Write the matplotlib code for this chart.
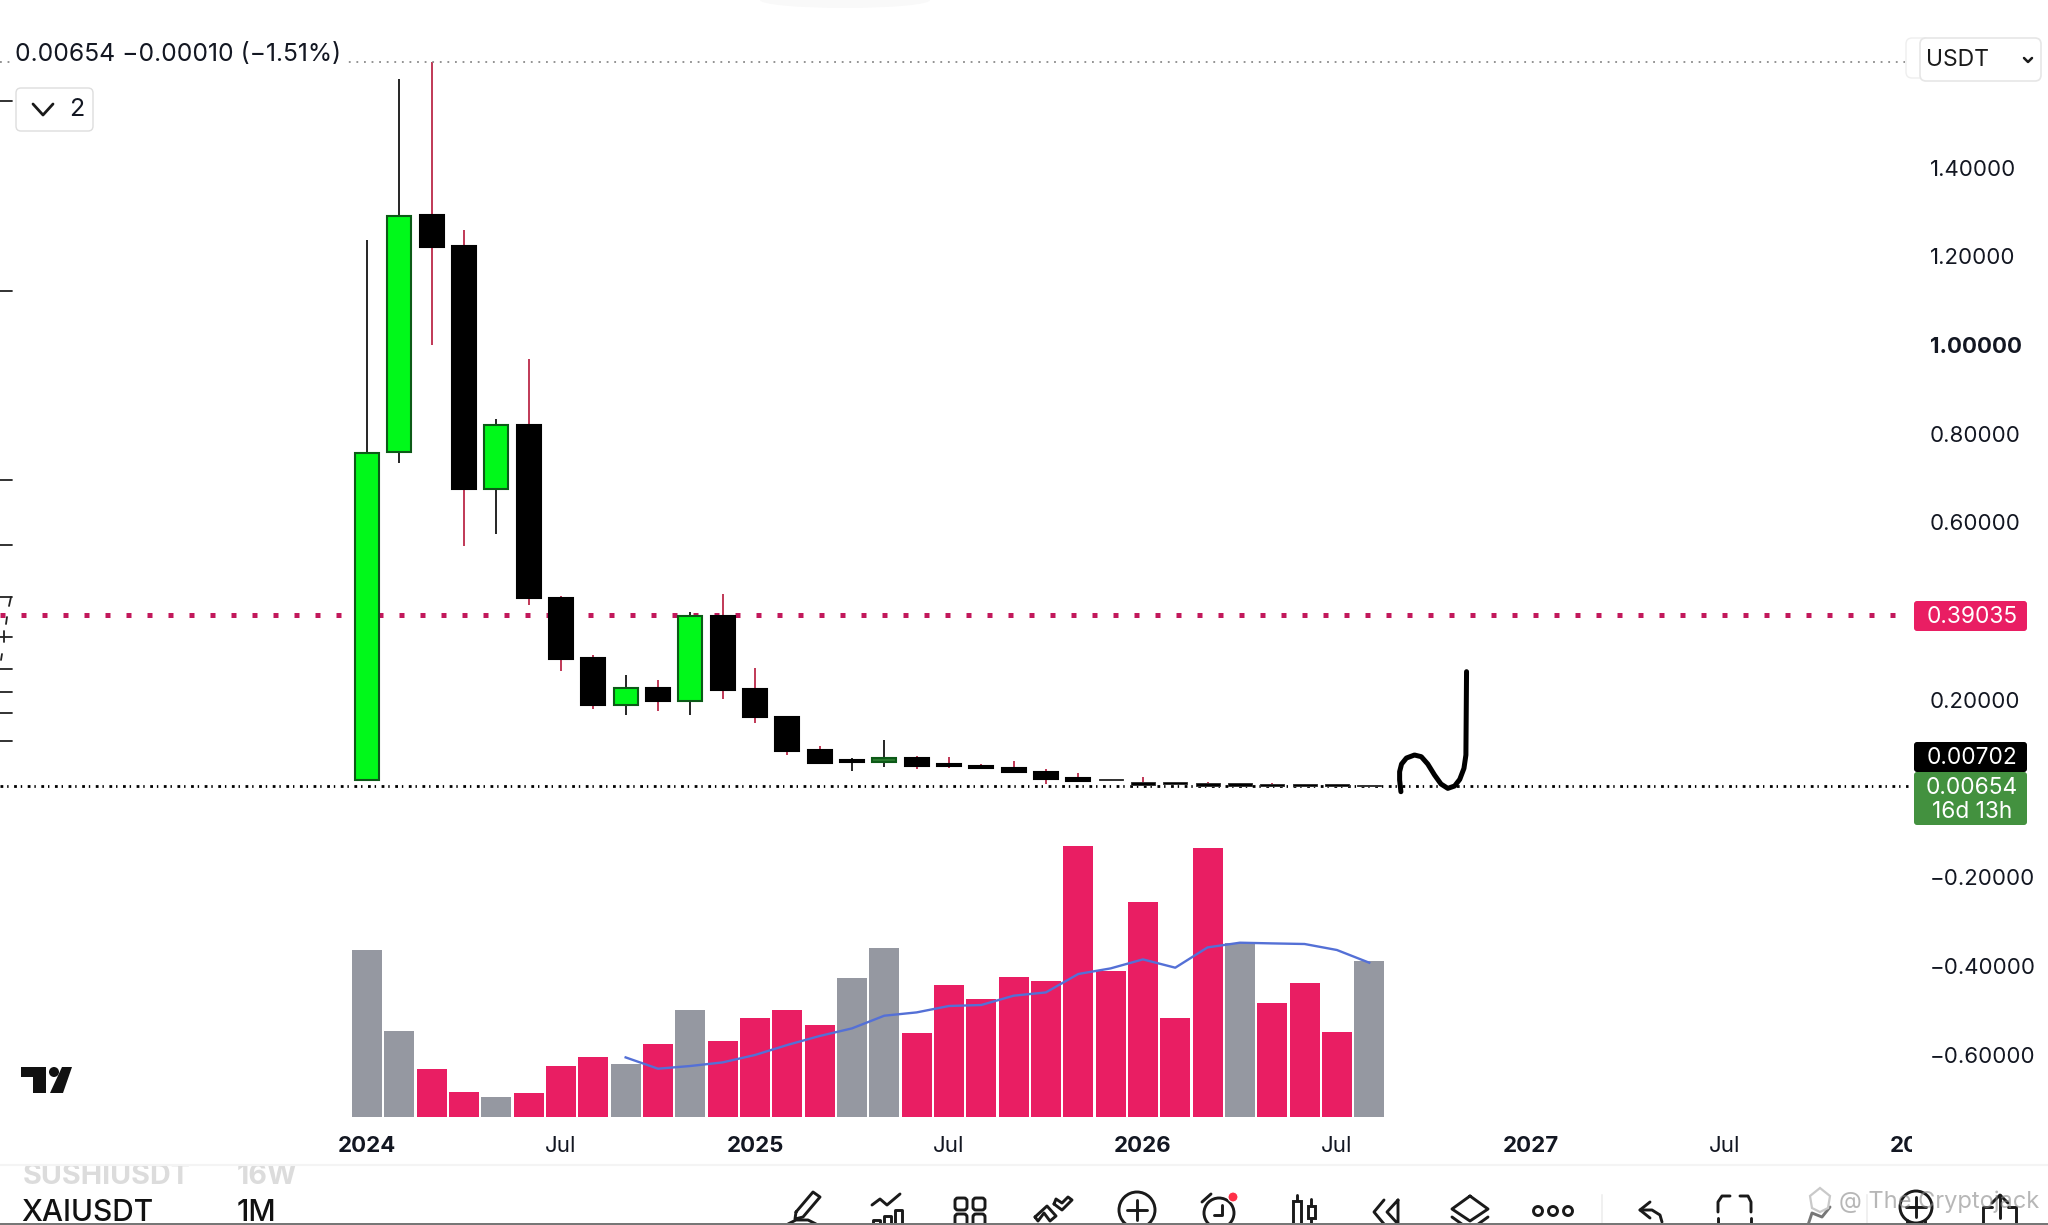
import matplotlib
matplotlib.use("Agg")
import matplotlib.pyplot as plt
from matplotlib.patches import FancyBboxPatch, Rectangle, Circle, Polygon, Ellipse

W, H = 2048, 1225
plt.rcParams['font.family'] = ['Inter', 'DejaVu Sans']

# ---------- data ----------
opens  = [0.019, 0.758, 1.292, 1.224, 0.676, 0.820, 0.4295, 0.295, 0.188, 0.227, 0.197, 0.390, 0.2236, 0.162,
          0.0868, 0.0643, 0.0605, 0.0688, 0.0546, 0.0507, 0.0462, 0.0379, 0.0230, 0.0214, 0.0147, 0.0140,
          0.0117, 0.0115, 0.0110, 0.0100, 0.0095, 0.00702]
closes = [0.757, 1.291, 1.222, 0.675, 0.820, 0.429, 0.293, 0.1875, 0.2266, 0.1965, 0.389, 0.222, 0.1605, 0.0853,
          0.0568, 0.0605, 0.0688, 0.0500, 0.0500, 0.0469, 0.0365, 0.0214, 0.0176, 0.0185, 0.0086, 0.0095,
          0.0063, 0.0065, 0.0065, 0.0062, 0.0062, 0.00654]
highs  = [1.237, 1.599, 1.639, 1.259, 0.833, 0.968, 0.435, 0.301, 0.2566, 0.2447, 0.397, 0.439, 0.2725, 0.1635,
          0.0966, 0.0695, 0.1087, 0.0740, 0.0703, 0.0559, 0.0627, 0.0440, 0.0343, 0.0214, 0.0266, 0.0140,
          0.0153, 0.0125, 0.0120, 0.0110, 0.0100, 0.0075]
lows   = [0.019, 0.733, 1.000, 0.547, 0.574, 0.414, 0.266, 0.179, 0.166, 0.1755, 0.166, 0.201, 0.1477, 0.0755,
          0.0568, 0.0388, 0.0485, 0.0433, 0.0462, 0.0446, 0.0365, 0.0101, 0.0176, 0.0185, 0.0086, 0.0090,
          0.0060, 0.0060, 0.0060, 0.0060, 0.0060, 0.0060]
volumes = [166.3, 85.3, 47.3, 24.3, 20.0, 23.3, 50.7, 60.0, 52.3, 72.3, 106.7, 75.7, 98.3, 106.3, 91.3, 138.7,
           168.3, 83.3, 131.7, 118.0, 140.0, 136.0, 270.7, 146.0, 214.3, 99.0, 268.7, 173.3, 113.7, 133.3, 84.3, 156.0]
gray_bars = [0, 1, 4, 8, 10, 15, 16, 27, 31]
vol_ma = [59.3, 48.0, 50.7, 54.3, 61.7, 71.7, 80.7, 88.3, 101.0, 104.3, 110.7, 111.7, 121.0, 124.3, 142.7, 148.3,
          157.3, 149.0, 169.3, 174.0, 173.3, 172.7, 166.7, 154.0]
vol_ma_start = 8
hand_x = [31.98, 31.94, 31.94, 32.00, 32.15, 32.40, 32.61, 32.81, 33.02, 33.22, 33.43, 33.64, 33.80, 33.93, 33.99, 34.01]
hand_y = [-0.0072, 0.0191, 0.0379, 0.0552, 0.0687, 0.0755, 0.0717, 0.0552, 0.0304, 0.0101, 0.0003, 0.0056, 0.0206,
          0.0454, 0.0755, 0.2634]
price_ticks = [1.4, 1.2, 1.0, 0.8, 0.6, 0.2, -0.2, -0.4, -0.6]
time_ticks = [0, 6, 12, 18, 24, 30, 36, 42, 48]
time_labels = ['2024', 'Jul', '2025', 'Jul', '2026', 'Jul', '2027', 'Jul', '2028']
ref_level = 0.39035
last_price = 0.00654
left_marks = [101, 291, 480, 545, 597, 637, 669, 692, 713, 741]

# ---------- layout ----------
PX_MONTH = 32.33
X0_PX = 367.0
Y0_PX = 788.5
PX_UNIT = 443.5
AX_R, AX_B = 1925, 1130
BASE_PX = 1116.7
INK = '#131722'
PINK = '#e91e63'
GRAY = '#9598a1'

fig = plt.figure(figsize=(W / 100, H / 100), dpi=100, facecolor='white')
rect = [0, 1 - AX_B / H, AX_R / W, AX_B / H]
xlim = (-X0_PX / PX_MONTH, (AX_R - X0_PX) / PX_MONTH)
x_end = (1908 - X0_PX) / PX_MONTH
xs = list(range(len(opens)))

# volume pane
axv = fig.add_axes(rect, zorder=1)
axv.set_xlim(xlim)
axv.set_ylim(BASE_PX - AX_B, BASE_PX)
axv.axis('off')
axv.bar(xs, volumes, width=0.93, color=[GRAY if i in gray_bars else PINK for i in xs], linewidth=0)
axv.plot(range(vol_ma_start, vol_ma_start + len(vol_ma)), vol_ma, color='#5470d6', lw=1.7)

# price pane
ax = fig.add_axes(rect, zorder=2)
ax.patch.set_alpha(0)
ax.set_xlim(xlim)
ax.set_ylim((Y0_PX - AX_B) / PX_UNIT, Y0_PX / PX_UNIT)
for s in ax.spines.values():
    s.set_visible(False)

ax.plot([xlim[0], x_end], [ref_level, ref_level], color='#c2185b', lw=3.6,
        dashes=(1, 3.2), dash_capstyle='butt', zorder=1)
ax.plot([xlim[0], x_end], [last_price, last_price], color='black', lw=2.0,
        dashes=(1.0, 1.4, 0.5, 2.0), dash_capstyle='butt', zorder=1)

for i in xs:
    up = closes[i] > opens[i]
    wick = 'black' if (up or i == 15) else '#b5173a'
    ax.plot([i, i], [lows[i], highs[i]], color=wick, lw=1.2, zorder=2, solid_capstyle='butt')
    thin = i >= 23
    fill = '#00f91a' if up else 'black'
    if i == 16:
        fill = '#2a7a2f'
    ax.bar(i, abs(closes[i] - opens[i]), bottom=min(opens[i], closes[i]), width=0.74,
           color=fill, edgecolor='#0c5a17' if up else ('#333333' if thin else 'black'),
           linewidth=0.7 if thin else 1.5, zorder=3)

ax.plot(hand_x, hand_y, color='black', lw=3.6, solid_capstyle='round', solid_joinstyle='round', zorder=4)

ax.yaxis.tick_right()
ax.set_yticks(price_ticks)
ax.set_yticklabels([f'{v:.5f}'.replace('-', '\u2212') for v in price_ticks], fontsize=16, color=INK)
for lab, v in zip(ax.get_yticklabels(), price_ticks):
    if v == 1.0:
        lab.set_fontweight('bold')
ax.tick_params(axis='y', length=0, pad=3.4)
ax.set_xticks(time_ticks)
ax.set_xticklabels(time_labels, fontsize=16, color=INK)
for lab, t in zip(ax.get_xticklabels(), time_labels):
    if t != 'Jul':
        lab.set_fontweight('bold')
    lab.set_clip_on(True)
    lab.set_clip_box(matplotlib.transforms.Bbox([[0, 0], [1912, H]]))
ax.tick_params(axis='x', length=0, pad=4)

# ---------- interface overlay, in pixel coordinates ----------
ui = fig.add_axes([0, 0, 1, 1], zorder=3)
ui.set_xlim(0, W)
ui.set_ylim(H, 0)
ui.axis('off')
ui.patch.set_alpha(0)


def box(x0, y0, x1, y1, fc, ec='none', r=3, lw=1.0, z=5):
    ui.add_patch(FancyBboxPatch((x0 + r, y0 + r), x1 - x0 - 2 * r, y1 - y0 - 2 * r,
                                boxstyle=f'round,pad={r},rounding_size={r}', fc=fc, ec=ec, lw=lw, zorder=z))


def stroke(pts, lw=2.0, c='#1a1a1a', z=6):
    ui.plot([p[0] for p in pts], [p[1] for p in pts], color=c, lw=lw, zorder=z,
            solid_capstyle='round', solid_joinstyle='round')


ui.add_patch(Ellipse((845, 0), 170, 16, fc='#f9f9f9', ec='none', zorder=0))
ui.plot([0, 1905], [61.5, 61.5], color='#8a8a8a', lw=1.3, dashes=(1, 3.2), zorder=1)
ui.text(15, 55, '0.00654 \u22120.00010 (\u22121.51%)', fontsize=17.8, color=INK, va='center', ha='left',
        zorder=6, bbox=dict(fc='white', ec='none', pad=2))

# left clipped marks
for y in left_marks:
    stroke([(0, y), (12, y)], lw=1.3, c='#222222')
stroke([(11, 597), (9, 606)], lw=1.3, c='#222222')
stroke([(7, 617), (6, 624)], lw=1.3, c='#222222')
stroke([(4, 631), (4, 642)], lw=1.3, c='#222222')
stroke([(2, 654), (1, 660)], lw=1.3, c='#222222')

# collapse button
box(16, 88, 93, 131, 'white', '#dddddd', r=5, lw=1.0)
stroke([(33, 104), (43, 115), (53, 104)], lw=2.0)
ui.text(77, 110, '2', fontsize=18, color=INK, ha='center', va='center', zorder=6)

# currency selector
box(1906, 38, 1930, 78, 'white', '#eeeeee', r=6)
box(1920, 38, 2041, 81, 'white', '#e6e6e6', r=6, lw=1.2)
ui.text(1926, 60, 'USDT', fontsize=16.5, color='#1a1a1a', ha='left', va='center', zorder=6)
stroke([(2024, 58), (2028, 62), (2032, 58)], lw=1.8)

# price tags
box(1914, 601, 2027, 631, PINK)
ui.text(1972, 617, '0.39035', color='white', fontsize=16.3, ha='center', va='center', zorder=6)
box(1914, 742, 2027, 772, 'black')
ui.text(1972, 758, '0.00702', color='white', fontsize=16.3, ha='center', va='center', zorder=6)
box(1914, 772, 2027, 825, '#43913f')
ui.text(1972, 788, '0.00654', color='white', fontsize=16.3, ha='center', va='center', zorder=6)
ui.text(1972, 812, '16d 13h', color='white', fontsize=16.3, ha='center', va='center', zorder=6)

# TradingView logo
ui.add_patch(Polygon([(21, 1067), (46, 1067), (46, 1093), (33, 1093), (33, 1077), (21, 1077)], fc='#111111', ec='none'))
ui.add_patch(Circle((54, 1072), 5, fc='#111111', ec='none'))
ui.add_patch(Polygon([(62, 1067), (72, 1067), (63, 1093), (50, 1093)], fc='#111111', ec='none'))

# footer
ui.text(23, 1176, 'SUSHIUSDT', fontsize=20.7, color='#dcdcdc', fontweight='bold', va='center', zorder=2)
ui.text(237, 1176, '16W', fontsize=20.7, color='#dcdcdc', fontweight='bold', va='center', zorder=2)
ui.add_patch(Rectangle((0, 1156), W, 9, fc='white', ec='none', zorder=3))
ui.plot([0, W], [1165, 1165], color='#f4f4f4', lw=1.5, zorder=4)
ui.text(21, 1213, 'XAIUSDT', fontsize=21.5, color='#111111', fontweight='medium', va='center', zorder=6)
ui.text(237, 1213, '1M', fontsize=21.5, color='#111111', fontweight='medium', va='center', zorder=6)

# toolbar icons
LW = 2.1
stroke([(796, 1212), (813, 1192), (820, 1197), (803, 1217), (795, 1219), (796, 1212)], LW)       # pencil
stroke([(788, 1224), (796, 1220), (808, 1220), (816, 1224)], LW)
stroke([(872, 1205), (880, 1199), (887, 1205), (900, 1194)], LW)                                 # chart
for x0, y0 in [(873, 1220), (884, 1216), (895, 1210)]:
    stroke([(x0, 1225), (x0, y0), (x0 + 7, y0), (x0 + 7, 1225)], LW)
for cx, cy in [(961, 1204), (979, 1204), (961, 1220), (979, 1220)]:                              # grid
    ui.add_patch(FancyBboxPatch((cx - 4, cy - 4), 8, 8, boxstyle='round,pad=2,rounding_size=3',
                                fc='none', ec='#1a1a1a', lw=LW, zorder=6))
stroke([(1035, 1217), (1047, 1206), (1056, 1216), (1050, 1221), (1044, 1213), (1038, 1221), (1035, 1217)], LW)  # strategy
stroke([(1054, 1204), (1062, 1210), (1072, 1200), (1068, 1197), (1062, 1203), (1056, 1199), (1054, 1204)], LW)
ui.add_patch(Circle((1137, 1210), 18, fc='none', ec='#1a1a1a', lw=LW, zorder=6))                 # add
stroke([(1127, 1210), (1147, 1210)], LW)
stroke([(1137, 1200), (1137, 1220)], LW)
ui.add_patch(Circle((1219, 1213), 15, fc='none', ec='#1a1a1a', lw=LW, zorder=6))                 # alarm
stroke([(1222, 1205), (1222, 1215), (1214, 1215)], LW)
stroke([(1202, 1202), (1211, 1194)], LW)
ui.add_patch(Circle((1233, 1197), 5, fc='#ff3048', ec='white', lw=0.8, zorder=7))
stroke([(1297, 1195), (1297, 1225)], LW)                                                         # candles
ui.add_patch(Rectangle((1293, 1201), 8, 24, fc='white', ec='#1a1a1a', lw=LW, zorder=7))
stroke([(1311, 1199), (1311, 1225)], LW)
ui.add_patch(Rectangle((1308, 1206), 7, 12, fc='white', ec='#1a1a1a', lw=LW, zorder=7))
stroke([(1384, 1200), (1374, 1212), (1384, 1224)], LW)                                           # rewind
stroke([(1398, 1200), (1387, 1212), (1398, 1224), (1398, 1200)], LW)
stroke([(1470, 1196), (1488, 1209), (1470, 1221), (1452, 1209), (1470, 1196)], LW)               # layers
stroke([(1452, 1217), (1470, 1230), (1488, 1217)], LW)
for cx in (1538, 1553, 1568):                                                                    # more
    ui.add_patch(Circle((cx, 1211), 4.5, fc='none', ec='#1a1a1a', lw=LW, zorder=6))
ui.plot([1602, 1602], [1195, 1225], color='#eeeeee', lw=1.2, zorder=2)
stroke([(1650, 1202), (1640, 1210), (1650, 1218)], LW)                                           # undo
stroke([(1640, 1210), (1652, 1210), (1660, 1215), (1662, 1222)], LW)
stroke([(1718, 1212), (1718, 1202), (1722, 1196), (1730, 1196)], LW)                             # frame
stroke([(1740, 1196), (1748, 1196), (1751, 1202), (1751, 1212)], LW)
stroke([(1718, 1218), (1718, 1225)], LW)
stroke([(1751, 1218), (1751, 1225)], LW)
stroke([(1808, 1225), (1812, 1213), (1822, 1217), (1830, 1207)], LW, c='#777777')                # trend
ui.plot([1867, 1867], [1195, 1225], color='#eeeeee', lw=1.2, zorder=2)
ui.add_patch(Circle((1916, 1207), 16, fc='none', ec='#1a1a1a', lw=LW, zorder=6))                 # idea
stroke([(1906, 1207), (1926, 1207)], LW)
stroke([(1916, 1197), (1916, 1217)], LW)
stroke([(1907, 1220), (1907, 1225), (1925, 1225), (1925, 1220)], LW)
stroke([(1983, 1225), (1983, 1207), (1992, 1207)], LW)                                           # share
stroke([(2008, 1207), (2016, 1207), (2016, 1225)], LW)
stroke([(2000, 1218), (2000, 1195)], LW)
stroke([(1992, 1203), (2000, 1195), (2008, 1203)], LW)

# watermark
ui.text(1839, 1202, '@ The Cryptojack', fontsize=17, color='#888888', alpha=0.6, va='center', ha='left', zorder=8)
ui.add_patch(Polygon([(1820, 1188), (1830, 1196), (1828, 1208), (1820, 1212), (1812, 1208), (1810, 1196)],
                     fc='none', ec='#c9c9c9', lw=1.6, zorder=8))

# bottom edge
ui.add_patch(Rectangle((0, 1222.5), W, 3, fc='#777777', ec='none', zorder=9))

fig.savefig('out.png', dpi=100, facecolor='white')
